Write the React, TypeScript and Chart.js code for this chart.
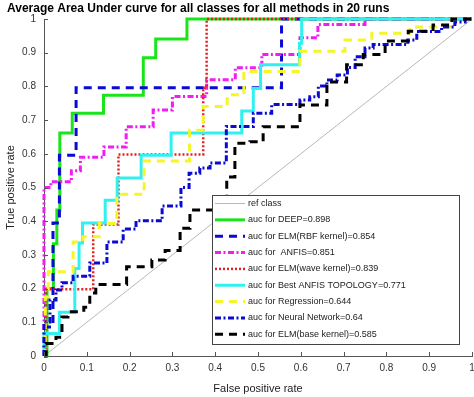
import React, { useEffect, useRef } from 'react';
import { Chart, registerables } from 'chart.js';

Chart.register(...registerables);

const chartTitle = 'Average Area Under curve for all classes for all methods in 20 runs';
const xAxisTitle = 'False positive rate';
const yAxisTitle = 'True positive rate';
const xTickLabels = ['0', '0.1', '0.2', '0.3', '0.4', '0.5', '0.6', '0.7', '0.8', '0.9', '1'];
const yTickLabels = ['0', '0.1', '0.2', '0.3', '0.4', '0.5', '0.6', '0.7', '0.8', '0.9', '1'];

const seriesLabels = [
  'ref class',
  'auc for DEEP=0.898',
  'auc for ELM(RBF kernel)=0.854',
  'auc for  ANFIS=0.851',
  'auc for ELM(wave kernel)=0.839',
  'auc for Best ANFIS TOPOLOGY=0.771',
  'auc for Regression=0.644',
  'auc for Neural Network=0.64',
  'auc for ELM(base kernel)=0.585',
];

const refFpr = [0, 1];
const refTpr = [0, 1];

const deepFpr = [0, 0.007, 0.007, 0.022, 0.022, 0.03, 0.03, 0.037, 0.037, 0.066, 0.066, 0.139, 0.139, 0.232, 0.232, 0.261, 0.261, 0.334, 0.334, 1];
const deepTpr = [0, 0, 0.2, 0.2, 0.333, 0.333, 0.433, 0.433, 0.662, 0.662, 0.72, 0.72, 0.774, 0.774, 0.885, 0.885, 0.941, 0.941, 1, 1];

const rbfFpr = [0, 0.002, 0.002, 0.021, 0.021, 0.036, 0.036, 0.075, 0.075, 0.555, 0.555, 1];
const rbfTpr = [0, 0, 0.086, 0.086, 0.395, 0.395, 0.596, 0.596, 0.796, 0.796, 1, 1];

const anfisFpr = [0, 0, 0.016, 0.016, 0.064, 0.064, 0.085, 0.085, 0.14, 0.14, 0.192, 0.192, 0.255, 0.255, 0.3, 0.3, 0.38, 0.38, 0.447, 0.447, 0.509, 0.509, 0.598, 0.598, 0.64, 0.64, 0.75, 0.75, 1];
const anfisTpr = [0, 0.5, 0.5, 0.517, 0.517, 0.55, 0.55, 0.59, 0.59, 0.62, 0.62, 0.68, 0.68, 0.73, 0.73, 0.77, 0.77, 0.82, 0.82, 0.855, 0.855, 0.895, 0.895, 0.944, 0.944, 0.984, 0.984, 1, 1];

const waveFpr = [0, 0.005, 0.005, 0.115, 0.115, 0.174, 0.174, 0.372, 0.372, 0.38, 0.38, 1];
const waveTpr = [0, 0, 0.198, 0.198, 0.39, 0.39, 0.598, 0.598, 0.796, 0.796, 1, 1];

const bestFpr = [0, 0, 0.036, 0.036, 0.072, 0.072, 0.082, 0.082, 0.09, 0.09, 0.143, 0.143, 0.171, 0.171, 0.227, 0.227, 0.297, 0.297, 0.462, 0.462, 0.489, 0.489, 0.506, 0.506, 0.597, 0.597, 0.602, 0.602, 1];
const bestTpr = [0, 0.067, 0.067, 0.13, 0.13, 0.26, 0.26, 0.335, 0.335, 0.395, 0.395, 0.462, 0.462, 0.528, 0.528, 0.596, 0.596, 0.662, 0.662, 0.727, 0.727, 0.794, 0.794, 0.864, 0.864, 0.928, 0.928, 1, 1];

const regFpr = [0, 0.003, 0.003, 0.01, 0.01, 0.068, 0.068, 0.091, 0.091, 0.129, 0.129, 0.17, 0.17, 0.234, 0.234, 0.34, 0.34, 0.372, 0.372, 0.428, 0.428, 0.467, 0.467, 0.598, 0.598, 0.703, 0.703, 0.766, 0.766, 0.855, 0.855, 0.953, 0.953, 1];
const regTpr = [0, 0, 0.175, 0.175, 0.25, 0.25, 0.338, 0.338, 0.354, 0.354, 0.393, 0.393, 0.48, 0.48, 0.579, 0.579, 0.67, 0.67, 0.74, 0.74, 0.775, 0.775, 0.844, 0.844, 0.904, 0.904, 0.938, 0.938, 0.958, 0.958, 0.976, 0.976, 1, 1];

const nnFpr = [0, 0, 0.014, 0.014, 0.028, 0.028, 0.042, 0.042, 0.068, 0.068, 0.107, 0.107, 0.147, 0.147, 0.185, 0.185, 0.215, 0.215, 0.276, 0.276, 0.32, 0.32, 0.339, 0.339, 0.364, 0.364, 0.388, 0.388, 0.426, 0.426, 0.489, 0.489, 0.532, 0.532, 0.598, 0.598, 0.621, 0.621, 0.641, 0.641, 0.661, 0.661, 0.685, 0.685, 0.709, 0.709, 0.727, 0.727, 0.75, 0.75, 0.769, 0.769, 0.85, 0.85, 0.871, 0.871, 0.929, 0.929, 0.96, 0.96, 0.984, 0.984, 1];
const nnTpr = [0, 0.101, 0.101, 0.166, 0.166, 0.196, 0.196, 0.217, 0.217, 0.237, 0.237, 0.276, 0.276, 0.338, 0.338, 0.377, 0.377, 0.401, 0.401, 0.445, 0.445, 0.5, 0.5, 0.542, 0.542, 0.558, 0.558, 0.573, 0.573, 0.681, 0.681, 0.72, 0.72, 0.746, 0.746, 0.76, 0.76, 0.769, 0.769, 0.801, 0.801, 0.819, 0.819, 0.834, 0.834, 0.856, 0.856, 0.888, 0.888, 0.914, 0.914, 0.924, 0.924, 0.938, 0.938, 0.963, 0.963, 0.976, 0.976, 0.991, 0.991, 1, 1];

const baseFpr = [0, 0.005, 0.005, 0.028, 0.028, 0.042, 0.042, 0.056, 0.056, 0.093, 0.093, 0.107, 0.107, 0.121, 0.121, 0.193, 0.193, 0.252, 0.252, 0.283, 0.283, 0.318, 0.318, 0.341, 0.341, 0.427, 0.427, 0.446, 0.446, 0.481, 0.481, 0.512, 0.512, 0.598, 0.598, 0.661, 0.661, 0.707, 0.707, 0.746, 0.746, 0.797, 0.797, 0.851, 0.851, 0.909, 0.909, 0.953, 0.953, 1];
const baseTpr = [0, 0, 0.037, 0.037, 0.056, 0.056, 0.116, 0.116, 0.131, 0.131, 0.145, 0.145, 0.187, 0.187, 0.212, 0.212, 0.265, 0.265, 0.285, 0.285, 0.313, 0.313, 0.379, 0.379, 0.433, 0.433, 0.531, 0.531, 0.631, 0.631, 0.636, 0.636, 0.68, 0.68, 0.745, 0.745, 0.813, 0.813, 0.864, 0.864, 0.895, 0.895, 0.935, 0.935, 0.964, 0.964, 0.982, 0.982, 1, 1];

const seriesFpr = [refFpr, deepFpr, rbfFpr, anfisFpr, waveFpr, bestFpr, regFpr, nnFpr, baseFpr];
const seriesTpr = [refTpr, deepTpr, rbfTpr, anfisTpr, waveTpr, bestTpr, regTpr, nnTpr, baseTpr];

// styles (not data)
const seriesColors = ['#b8b8b8', '#1ae41a', '#0a0ad2', '#f01ef0', '#e82020', '#30f0f0', '#f5f52a', '#0a0ad2', '#000000'];
const seriesWidths = [1, 3, 3, 3, 2.5, 3, 3, 3, 3];
const seriesDashes: number[][] = [[], [], [8, 6], [6, 2.5, 2, 2.5], [2, 2], [], [8, 6], [6, 2.5, 2, 2.5], [8, 6]];

const FONT = 'Arial, "Liberation Sans", Helvetica, sans-serif';

export default function App() {
  const canvasRef = useRef<HTMLCanvasElement | null>(null);

  useEffect(() => {
    document.body.style.margin = '0';
    const canvas = canvasRef.current;
    if (!canvas) return;

    const n = seriesLabels.length;
    const datasets = seriesLabels.map((label, i) => ({
      label,
      data: seriesFpr[i].map((x, j) => ({ x, y: seriesTpr[i][j] })),
      borderColor: seriesColors[i],
      backgroundColor: seriesColors[i],
      borderWidth: seriesWidths[i],
      borderDash: seriesDashes[i],
      borderCapStyle: 'butt' as const,
      borderJoinStyle: 'miter' as const,
      pointRadius: 0,
      pointHoverRadius: 0,
      showLine: true,
      fill: false,
      tension: 0,
      clip: 6,
      order: n - i,
    }));

    const titlePlugin = {
      id: 'figTitle',
      afterDraw(chart: any) {
        const ctx = chart.ctx;
        ctx.save();
        ctx.font = `bold 12px ${FONT}`;
        ctx.fillStyle = '#000';
        ctx.textAlign = 'left';
        ctx.textBaseline = 'alphabetic';
        ctx.fillText(chartTitle, 7, 12);
        ctx.restore();
      },
    };

    const innerTicks = {
      id: 'innerTicks',
      afterDraw(chart: any) {
        const { ctx, chartArea: a, scales } = chart;
        ctx.save();
        ctx.strokeStyle = '#555';
        ctx.lineWidth = 1;
        ctx.setLineDash([]);
        ctx.beginPath();
        scales.x.ticks.forEach((t: any) => {
          const px = Math.round(scales.x.getPixelForValue(t.value)) + 0.5;
          ctx.moveTo(px, a.bottom);
          ctx.lineTo(px, a.bottom - 4);
        });
        scales.y.ticks.forEach((t: any) => {
          const py = Math.round(scales.y.getPixelForValue(t.value)) + 0.5;
          ctx.moveTo(a.left, py);
          ctx.lineTo(a.left + 4, py);
        });
        ctx.stroke();
        ctx.restore();
      },
    };

    const boxLegend = {
      id: 'boxLegend',
      afterDraw(chart: any) {
        const { ctx, chartArea: a } = chart;
        const w = 247;
        const h = 149;
        const right = a.right - 13;
        const bottom = a.bottom - 12;
        const left = right - w;
        const top = bottom - h;
        ctx.save();
        ctx.setLineDash([]);
        ctx.fillStyle = '#fff';
        ctx.fillRect(left, top, w, h);
        ctx.strokeStyle = '#444';
        ctx.lineWidth = 1;
        ctx.strokeRect(left + 0.5, top + 0.5, w, h);
        chart.data.datasets.forEach((ds: any, i: number) => {
          const yy = top + 8.5 + i * 16.35;
          ctx.beginPath();
          ctx.setLineDash(ds.borderDash || []);
          ctx.lineDashOffset = 0;
          ctx.strokeStyle = ds.borderColor;
          ctx.lineWidth = ds.borderWidth;
          ctx.lineCap = 'butt';
          ctx.moveTo(left + 3, yy);
          ctx.lineTo(left + 33, yy);
          ctx.stroke();
          ctx.setLineDash([]);
          ctx.fillStyle = '#222';
          ctx.font = `9px ${FONT}`;
          ctx.textAlign = 'left';
          ctx.textBaseline = 'middle';
          ctx.fillText(ds.label, left + 36, yy);
        });
        ctx.restore();
      },
    };

    const chart = new Chart(canvas, {
      type: 'scatter',
      data: { datasets: datasets as any },
      options: {
        animation: false,
        responsive: false,
        devicePixelRatio: 1,
        events: [],
        layout: { padding: { top: 19, right: 2, left: 0, bottom: 0 } },
        plugins: {
          legend: { display: false },
          tooltip: { enabled: false },
          title: { display: false },
        },
        scales: {
          x: {
            type: 'linear',
            min: 0,
            max: 1,
            ticks: {
              stepSize: 0.1,
              padding: 6,
              color: '#333',
              font: { family: FONT, size: 10 },
              maxRotation: 0,
              autoSkip: false,
              callback: (v: any) => xTickLabels[Math.round(Number(v) * 10)],
            },
            grid: { display: false, drawTicks: false },
            border: { display: true, color: '#555', width: 1 },
            title: {
              display: true,
              text: xAxisTitle,
              color: '#222',
              font: { family: FONT, size: 11 },
              padding: { top: 0, bottom: 1.5 },
            },
            afterFit: (s: any) => {
              s.height = 41;
              s.paddingLeft = 0;
              s.paddingRight = 0;
            },
          },
          y: {
            type: 'linear',
            min: 0,
            max: 1,
            ticks: {
              stepSize: 0.1,
              padding: 8,
              color: '#333',
              font: { family: FONT, size: 10 },
              autoSkip: false,
              callback: (v: any) => yTickLabels[Math.round(Number(v) * 10)],
            },
            grid: { display: false, drawTicks: false },
            border: { display: true, color: '#555', width: 1 },
            title: {
              display: true,
              text: yAxisTitle,
              color: '#222',
              font: { family: FONT, size: 11 },
              padding: { top: 4, bottom: 0 },
            },
            afterFit: (s: any) => {
              s.width = 44;
              s.paddingTop = 0;
              s.paddingBottom = 0;
            },
          },
        },
      },
      plugins: [titlePlugin, innerTicks, boxLegend],
    });

    return () => chart.destroy();
  }, []);

  return (
    <canvas
      ref={canvasRef}
      width={474}
      height={397}
      style={{ display: 'block', width: 474, height: 397 }}
    />
  );
}
